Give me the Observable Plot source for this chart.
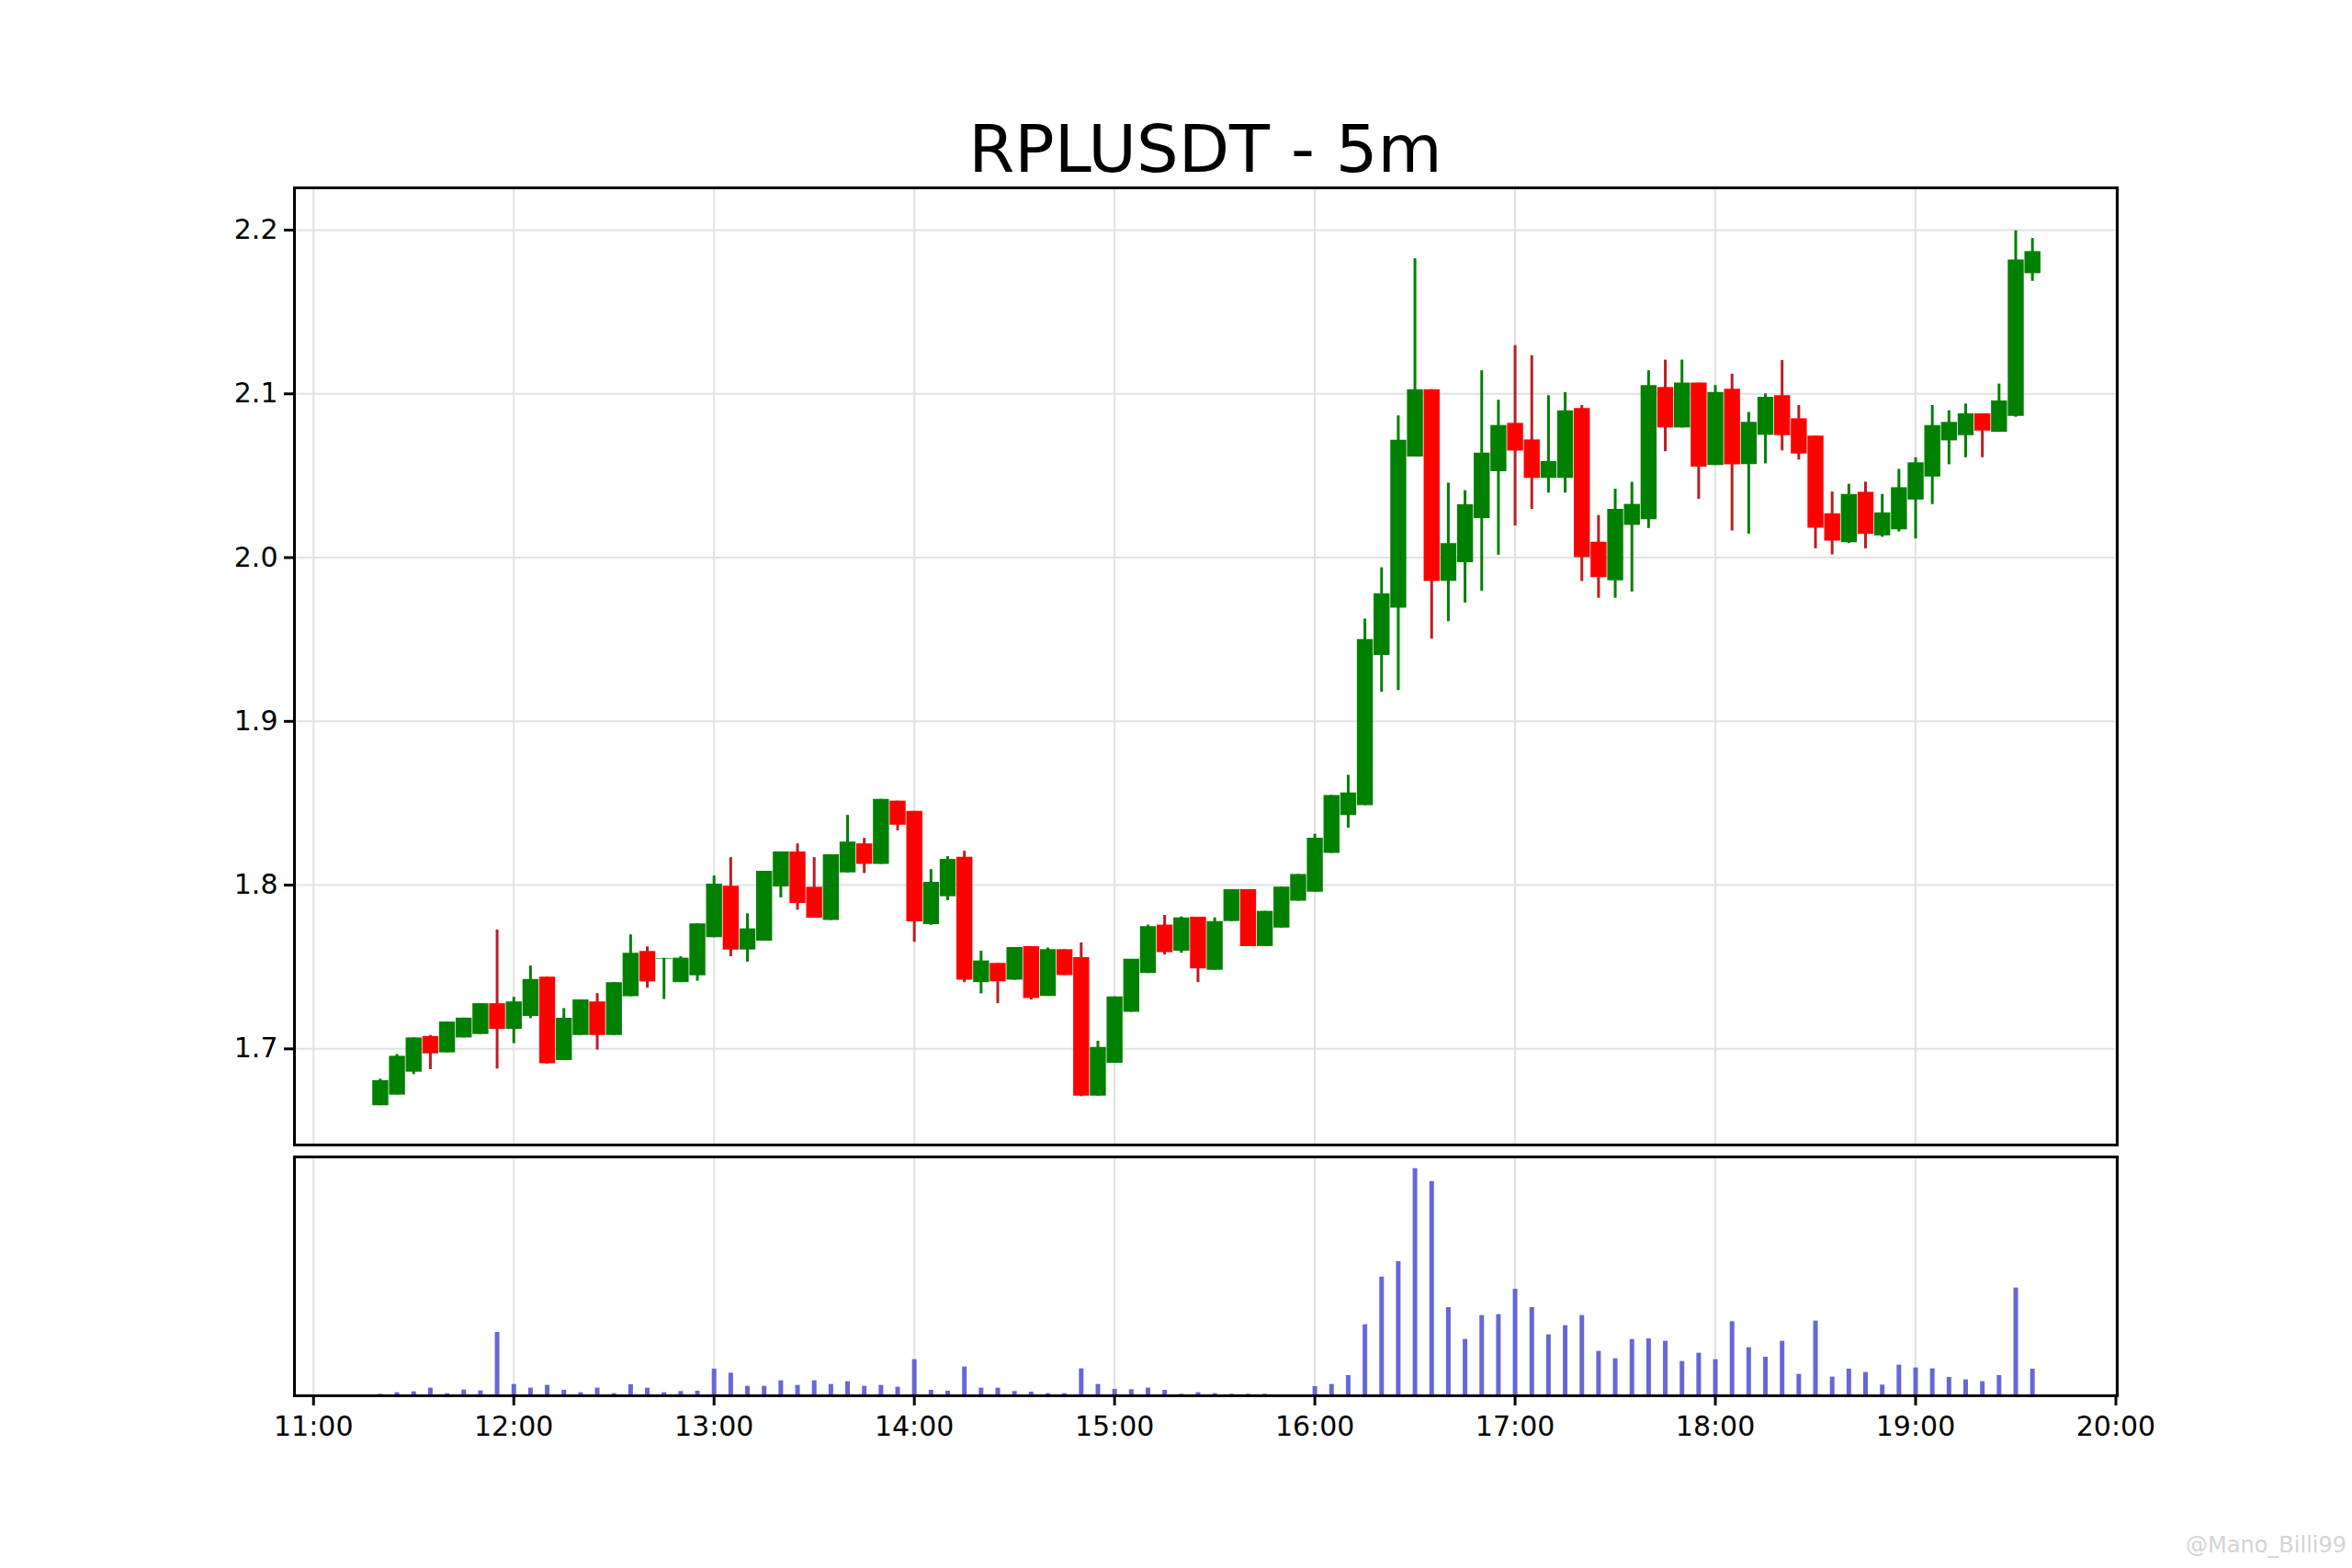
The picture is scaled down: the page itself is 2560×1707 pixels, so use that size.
<!DOCTYPE html>
<html>
<head>
<meta charset="utf-8">
<script src="https://cdn.jsdelivr.net/npm/d3@7"></script>
<script src="https://cdn.jsdelivr.net/npm/@observablehq/plot@0.6"></script>
<style>
  html, body { margin: 0; padding: 0; background: white; }
  #wrap { position: relative; width: 2560px; height: 1707px; background: white; font-family: "DejaVu Sans", sans-serif; }
  #title { position: absolute; top: 126px; left: 1312px; transform: translateX(-50%); font-size: 72px; line-height: 72px; white-space: nowrap; color: #000; }
  #price { position: absolute; top: 0; left: 0; }
  #volume { position: absolute; top: 1252px; left: 0; }
  #mark { position: absolute; top: 1668px; right: 6px; font-size: 24px; color: #d4d4d4; }
  #wrap svg [aria-label^="y-axis"] line, #wrap svg [aria-label^="y-axis"] path,
  #wrap svg [aria-label^="x-axis"] line, #wrap svg [aria-label^="x-axis"] path { stroke-width: 3px; stroke: #000; }
</style>
</head>
<body>
<div id="wrap">
  <div id="title">RPLUSDT - 5m</div>
  <div id="price"></div>
  <div id="volume"></div>
  <div id="mark">@Mano_Billi99</div>
</div>
<script>
const times = [
  "11:20","11:25","11:30","11:35","11:40","11:45","11:50","11:55",
  "12:00","12:05","12:10","12:15","12:20","12:25","12:30","12:35","12:40","12:45","12:50","12:55",
  "13:00","13:05","13:10","13:15","13:20","13:25","13:30","13:35","13:40","13:45","13:50","13:55",
  "14:00","14:05","14:10","14:15","14:20","14:25","14:30","14:35","14:40","14:45","14:50","14:55",
  "15:00","15:05","15:10","15:15","15:20","15:25","15:30","15:35","15:40","15:45","15:50","15:55",
  "16:00","16:05","16:10","16:15","16:20","16:25","16:30","16:35","16:40","16:45","16:50","16:55",
  "17:00","17:05","17:10","17:15","17:20","17:25","17:30","17:35","17:40","17:45","17:50","17:55",
  "18:00","18:05","18:10","18:15","18:20","18:25","18:30","18:35","18:40","18:45","18:50","18:55",
  "19:00","19:05","19:10","19:15","19:20","19:25","19:30","19:35"
];
const open = [
  1.6653,1.6718,1.6858,1.7076,1.6976,1.7067,1.7088,1.7276,
  1.7119,1.7198,1.7438,1.6929,1.7082,1.7287,1.7082,1.7319,1.7595,1.7548,1.7405,1.7446,
  1.7679,1.7993,1.7604,1.7658,1.7989,1.8203,1.7987,1.7785,1.8075,1.8252,1.8127,1.8513,
  1.8450,1.7759,1.7929,1.8170,1.7405,1.7522,1.7420,1.7625,1.7321,1.7606,1.7558,1.6711,
  1.6912,1.7224,1.7461,1.7756,1.7597,1.7804,1.7480,1.7778,1.7972,1.7625,1.7738,1.7902,
  1.7957,1.8194,1.8425,1.8486,1.9403,1.9692,2.0615,2.1025,1.9855,1.9969,2.0238,2.0525,
  2.0820,2.0719,2.0484,2.0484,2.0910,2.0094,1.9859,2.0197,2.0231,2.1039,2.0792,2.1066,
  2.0563,2.1028,2.0568,2.0747,2.0989,2.0848,2.0742,2.0268,2.0092,2.0399,2.0133,2.0170,
  2.0352,2.0493,2.0713,2.0745,2.0878,2.0766,2.0863,2.1734
];
const high = [
  1.6815,1.6966,1.7067,1.7082,1.7164,1.7188,1.7276,1.7726,
  1.7315,1.7506,1.7438,1.7246,1.7299,1.7338,1.7405,1.7696,1.7623,1.7554,1.7563,1.7763,
  1.8056,1.8168,1.7825,1.8084,1.8203,1.8252,1.8168,1.8185,1.8426,1.8286,1.8524,1.8513,
  1.8450,1.8095,1.8174,1.8207,1.7597,1.7522,1.7619,1.7625,1.7616,1.7606,1.7647,1.7047,
  1.7317,1.7547,1.7756,1.7815,1.7806,1.7804,1.7800,1.7972,1.7972,1.7840,1.7988,1.8065,
  1.8311,1.8548,1.8671,1.9625,1.9938,2.0865,2.1825,2.1025,2.0455,2.0409,2.1141,2.0961,
  2.1295,2.1233,2.0989,2.1008,2.0929,2.0257,2.0418,2.0460,2.1141,2.1206,2.1206,2.1066,
  2.1051,2.1120,2.0887,2.1000,2.1204,2.0929,2.0742,2.0401,2.0448,2.0461,2.0386,2.0539,
  2.0610,2.0929,2.0897,2.0938,2.0878,2.1060,2.1996,2.1949
];
const low = [
  1.6653,1.6718,1.6843,1.6873,1.6976,1.7067,1.7088,1.6877,
  1.7032,1.7185,1.6909,1.6929,1.7082,1.6993,1.7082,1.7319,1.7371,1.7302,1.7405,1.7414,
  1.7679,1.7563,1.7530,1.7658,1.7922,1.7847,1.7798,1.7785,1.8075,1.8071,1.8127,1.8332,
  1.7651,1.7755,1.7905,1.7405,1.7336,1.7276,1.7420,1.7299,1.7321,1.7448,1.6708,1.6711,
  1.6912,1.7224,1.7461,1.7573,1.7584,1.7405,1.7480,1.7778,1.7625,1.7625,1.7738,1.7902,
  1.7957,1.8194,1.8348,1.8486,1.9178,1.9188,2.0615,1.9502,1.9609,1.9723,1.9794,2.0015,
  2.0193,2.0295,2.0394,2.0394,1.9854,1.9752,1.9752,1.9790,2.0178,2.0647,2.0792,2.0356,
  2.0563,2.0163,2.0144,2.0573,2.0652,2.0596,2.0054,2.0017,2.0086,2.0054,2.0124,2.0157,
  2.0114,2.0324,2.0567,2.0610,2.0610,2.0766,2.0857,2.1687
];
const close = [
  1.6806,1.6955,1.7067,1.6970,1.7164,1.7188,1.7276,1.7119,
  1.7287,1.7424,1.6909,1.7187,1.7299,1.7082,1.7405,1.7584,1.7409,1.7552,1.7554,1.7763,
  1.8006,1.7604,1.7733,1.8084,1.8203,1.7888,1.7798,1.8185,1.8263,1.8127,1.8524,1.8366,
  1.7776,1.8017,1.8157,1.7420,1.7537,1.7410,1.7619,1.7308,1.7606,1.7448,1.6711,1.7009,
  1.7317,1.7547,1.7746,1.7588,1.7800,1.7489,1.7778,1.7972,1.7625,1.7840,1.7988,1.8065,
  1.8286,1.8548,1.8563,1.9500,1.9778,2.0717,2.1025,1.9855,2.0086,2.0323,2.0638,2.0807,
  2.0651,2.0484,2.0587,2.0897,2.0000,1.9878,2.0295,2.0325,2.1051,2.0792,2.1066,2.0553,
  2.1008,2.0567,2.0826,2.0979,2.0745,2.0633,2.0180,2.0101,2.0386,2.0142,2.0273,2.0427,
  2.0579,2.0807,2.0826,2.0878,2.0773,2.0957,2.1818,2.1869
];
const volume = [
  5,10,13,25,7,19,16,207,
  37,25,34,18,10,25,7,36,25,10,14,15,
  87,74,31,31,49,34,49,37,46,31,34,28,
  118,18,15,94,25,25,14,12,7,7,88,37,
  21,20,25,18,5,10,7,5,5,5,2,3,
  30,37,66,232,388,438,742,700,288,184,262,265,
  348,288,199,229,262,145,121,184,186,178,112,139,
  118,242,157,126,178,70,244,61,87,76,35,100,
  91,88,60,52,46,66,352,87
];
const hourTicks = ["11:00","12:00","13:00","14:00","15:00","16:00","17:00","18:00","19:00","20:00"];
const priceTicks = [1.7, 1.8, 1.9, 2.0, 2.1, 2.2];
const xDomain = ["10:54:17", "20:00:25"];
const priceDomain = [1.6413, 2.2258];
const volumeDomain = [0, 780];

const toDate = s => new Date("2024-01-01T" + (s.length === 5 ? s + ":00" : s) + "Z");
const candles = times.map((t, i) => ({
  time: toDate(t), open: open[i], high: high[i], low: low[i], close: close[i],
  volume: volume[i], up: close[i] >= open[i]
}));
const hours = hourTicks.map(toDate);
const xdom = xDomain.map(toDate);

const GREEN = "#008000", RED = "#ff0000", RED_WICK = "#bb1d25";
const GRID = "#e2e2e2";
const baseStyle = { fontFamily: "DejaVu Sans, sans-serif", fontSize: "30px", background: "transparent", overflow: "visible", color: "#000" };

const price = Plot.plot({
  width: 2560, height: 1252,
  marginLeft: 320, marginRight: 256, marginTop: 204, marginBottom: 6,
  style: baseStyle,
  x: { type: "utc", domain: xdom, axis: null },
  y: { domain: priceDomain, ticks: priceTicks, tickFormat: d3.format(".1f"), tickSize: 11, tickPadding: 7, label: null },
  marks: [
    Plot.ruleX(hours, { x: d => d, stroke: GRID, strokeWidth: 2 }),
    Plot.ruleY(priceTicks, { y: d => d, stroke: GRID, strokeWidth: 2 }),
    Plot.ruleX(candles, { x: "time", y1: "low", y2: "high", stroke: d => d.up ? GREEN : RED_WICK, strokeWidth: 3 }),
    Plot.ruleX(candles, { x: "time", y1: "open", y2: "close", stroke: d => d.up ? GREEN : RED, strokeWidth: 17.4 }),
    Plot.frame({ stroke: "#000", strokeWidth: 3 })
  ]
});
document.getElementById("price").appendChild(price);

const vol = Plot.plot({
  width: 2560, height: 400,
  marginLeft: 320, marginRight: 256, marginTop: 7, marginBottom: 133,
  style: baseStyle,
  x: { type: "utc", domain: xdom, ticks: hours, tickFormat: d3.utcFormat("%H:%M"), tickSize: 11, tickPadding: 11, label: null },
  y: { domain: volumeDomain, axis: null },
  marks: [
    Plot.ruleX(hours, { x: d => d, stroke: GRID, strokeWidth: 2 }),
    Plot.ruleX(candles, { x: "time", y1: 0, y2: "volume", stroke: "#6767d8", strokeWidth: 5 }),
    Plot.frame({ stroke: "#000", strokeWidth: 3 })
  ]
});
document.getElementById("volume").appendChild(vol);
</script>
</body>
</html>
